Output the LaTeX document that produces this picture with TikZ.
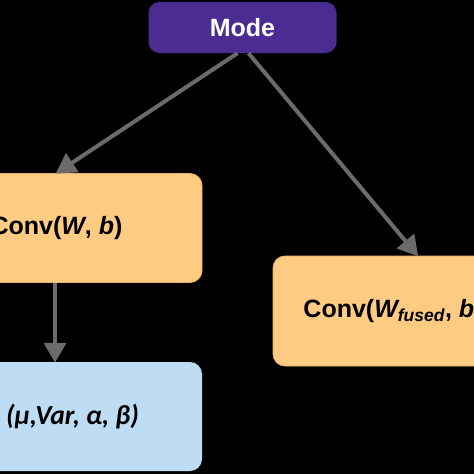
\documentclass[tikz,border=0pt]{standalone}
\usepackage{fontspec}
\setmainfont{Liberation Sans}
\newfontfamily\carlito{Carlito}
\usetikzlibrary{arrows.meta,calc}
\definecolor{modepurple}{HTML}{4B2D91}
\definecolor{boxorange}{HTML}{FDCB82}
\definecolor{boxorangeedge}{HTML}{E8B36A}
\definecolor{boxblue}{HTML}{BEDDF4}
\definecolor{arrowgray}{HTML}{6B6B6B}
\tikzset{
  modebox/.style={fill=modepurple, rounded corners=11pt, minimum width=188pt, minimum height=51pt, inner sep=0pt, text=white, font=\fontsize{25}{29}\selectfont\bfseries},
  convbox/.style={fill=boxorange, draw=boxorangeedge, line width=0.8pt, rounded corners=12pt, inner sep=0pt, font=\fontsize{25}{29}\selectfont\bfseries},
  paramsbox/.style={fill=boxblue, rounded corners=12pt, inner sep=0pt, font=\fontsize{27.5}{31}\selectfont\carlito\bfseries\itshape},
  flow/.style={draw=arrowgray, line width=4pt, -{Triangle[length=20pt,width=22pt]}, arrowgray, shorten >=-1pt}
}
\begin{document}
\begin{tikzpicture}[x=1pt,y=-1pt]
\useasboundingbox (0,0) rectangle (474,474);
\clip (0,0) rectangle (474,474);
\fill[black] (-5,-5) rectangle (479,479);
\node[modebox] (mode) at (242.5,27.5) {Mode};
\node[convbox, minimum width=291pt, minimum height=109pt] (conv) at (56.5,228) {Conv(\textit{W}, \textit{b})};
\node[convbox, minimum width=240pt, minimum height=110pt] (fused) at (393,311) {Conv(\textit{W\textsubscript{fused}}, \textit{b})};
\node[paramsbox, minimum width=259pt, minimum height=109pt] (params) at (72.5,416.5) {(μ,Var, α, β)};
\draw[flow] ([xshift=-5pt]mode.south) -- (conv.north);
\draw[flow] ([xshift=6pt]mode.south) -- ([xshift=145pt]fused.north west);
\draw[flow] ([xshift=-1.5pt]conv.south) -- ([xshift=-17.5pt]params.north);
\end{tikzpicture}
\end{document}
